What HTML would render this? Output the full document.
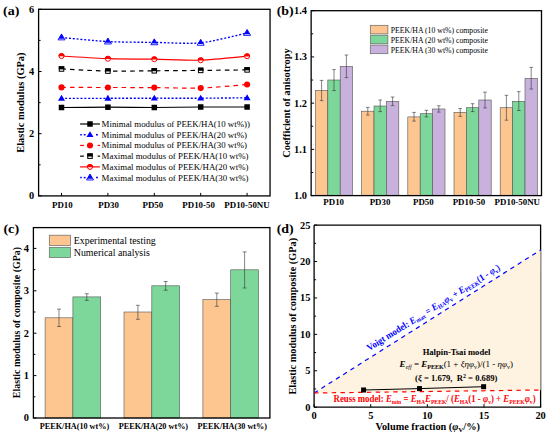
<!DOCTYPE html>
<html><head><meta charset="utf-8"><style>
html,body{margin:0;padding:0;background:#fff;width:550px;height:437px;overflow:hidden}
svg{display:block}
text{font-family:"Liberation Serif", serif;}
.tb{font-weight:bold;font-size:10.4px}
.cat{font-weight:bold;font-size:8.9px}
.catc{font-weight:bold;font-size:8.2px}
.pl{font-weight:bold;font-size:12.8px}
.yl{font-weight:bold;font-size:10.3px}
.xl{font-weight:bold;font-size:10.3px}
.lg{font-size:8.85px}
.lgb{font-size:7.75px}
.lgc{font-size:9.9px}
.rt{font-weight:bold;font-size:9.6px}
.sub{font-size:6.2px}
.ht{font-weight:bold;font-size:8.6px}
.hr{font-size:9.0px}
</style></head><body>
<svg width="550" height="437" viewBox="0 0 550 437">
<line x1="38.6" y1="195.90" x2="41.6" y2="195.90" stroke="#000" stroke-width="1"/>
<line x1="38.6" y1="164.80" x2="40.6" y2="164.80" stroke="#000" stroke-width="1"/>
<line x1="38.6" y1="133.70" x2="41.6" y2="133.70" stroke="#000" stroke-width="1"/>
<line x1="38.6" y1="102.60" x2="40.6" y2="102.60" stroke="#000" stroke-width="1"/>
<line x1="38.6" y1="71.50" x2="41.6" y2="71.50" stroke="#000" stroke-width="1"/>
<line x1="38.6" y1="40.40" x2="40.6" y2="40.40" stroke="#000" stroke-width="1"/>
<line x1="38.6" y1="9.30" x2="41.6" y2="9.30" stroke="#000" stroke-width="1"/>
<line x1="61.50" y1="195.9" x2="61.50" y2="192.9" stroke="#000" stroke-width="1"/>
<line x1="107.90" y1="195.9" x2="107.90" y2="192.9" stroke="#000" stroke-width="1"/>
<line x1="154.30" y1="195.9" x2="154.30" y2="192.9" stroke="#000" stroke-width="1"/>
<line x1="200.70" y1="195.9" x2="200.70" y2="192.9" stroke="#000" stroke-width="1"/>
<line x1="247.10" y1="195.9" x2="247.10" y2="192.9" stroke="#000" stroke-width="1"/>
<text x="34.1" y="199.30" class="tb" text-anchor="end">0</text>
<text x="34.1" y="137.10" class="tb" text-anchor="end">2</text>
<text x="34.1" y="74.90" class="tb" text-anchor="end">4</text>
<text x="34.1" y="12.70" class="tb" text-anchor="end">6</text>
<text x="62.40" y="207.6" class="cat" text-anchor="middle">PD10</text>
<text x="108.60" y="207.6" class="cat" text-anchor="middle">PD30</text>
<text x="152.90" y="207.6" class="cat" text-anchor="middle">PD50</text>
<text x="198.60" y="207.6" class="cat" text-anchor="middle">PD10-50</text>
<text x="247.00" y="207.6" class="cat" text-anchor="middle">PD10-50NU</text>
<text x="3.0" y="14.8" class="pl" textLength="16.3" lengthAdjust="spacingAndGlyphs">(a)</text>
<text transform="translate(24.4,102.6) rotate(-90)" class="yl" style="font-size:10.45px" text-anchor="middle">Elastic modulus (GPa)</text>
<path d="M61.50,37.50 C66.91,37.98 97.07,41.03 107.90,41.60 C118.73,42.17 143.47,42.25 154.30,42.40 C165.13,42.55 189.87,44.00 200.70,42.90 C211.53,41.80 241.69,34.16 247.10,33.00" fill="none" stroke="#0000FF" stroke-width="1.35" stroke-dasharray="2 1.8"/>
<polygon points="61.50,33.96 65.00,39.86 58.00,39.86" fill="#fff" stroke="#0000FF" stroke-width="0.9"/><polygon points="61.50,33.96 64.30,38.68 58.70,38.68" fill="#0000FF"/>
<polygon points="107.90,38.06 111.40,43.96 104.40,43.96" fill="#fff" stroke="#0000FF" stroke-width="0.9"/><polygon points="107.90,38.06 110.70,42.78 105.10,42.78" fill="#0000FF"/>
<polygon points="154.30,38.86 157.80,44.76 150.80,44.76" fill="#fff" stroke="#0000FF" stroke-width="0.9"/><polygon points="154.30,38.86 157.10,43.58 151.50,43.58" fill="#0000FF"/>
<polygon points="200.70,39.36 204.20,45.26 197.20,45.26" fill="#fff" stroke="#0000FF" stroke-width="0.9"/><polygon points="200.70,39.36 203.50,44.08 197.90,44.08" fill="#0000FF"/>
<polygon points="247.10,29.46 250.60,35.36 243.60,35.36" fill="#fff" stroke="#0000FF" stroke-width="0.9"/><polygon points="247.10,29.46 249.90,34.18 244.30,34.18" fill="#0000FF"/>
<path d="M61.50,56.00 C66.91,56.31 97.07,58.33 107.90,58.70 C118.73,59.07 143.47,59.03 154.30,59.20 C165.13,59.38 189.87,60.55 200.70,60.20 C211.53,59.85 241.69,56.67 247.10,56.20" fill="none" stroke="#FF0000" stroke-width="1.2"/>
<circle cx="61.50" cy="56.00" r="2.55" fill="#fff" stroke="#FF0000" stroke-width="1"/><path d="M58.45,56.30 A3.05,3.05 0 0 1 64.55,56.30 Z" fill="#FF0000"/>
<circle cx="107.90" cy="58.70" r="2.55" fill="#fff" stroke="#FF0000" stroke-width="1"/><path d="M104.85,59.00 A3.05,3.05 0 0 1 110.95,59.00 Z" fill="#FF0000"/>
<circle cx="154.30" cy="59.20" r="2.55" fill="#fff" stroke="#FF0000" stroke-width="1"/><path d="M151.25,59.50 A3.05,3.05 0 0 1 157.35,59.50 Z" fill="#FF0000"/>
<circle cx="200.70" cy="60.20" r="2.55" fill="#fff" stroke="#FF0000" stroke-width="1"/><path d="M197.65,60.50 A3.05,3.05 0 0 1 203.75,60.50 Z" fill="#FF0000"/>
<circle cx="247.10" cy="56.20" r="2.55" fill="#fff" stroke="#FF0000" stroke-width="1"/><path d="M244.05,56.50 A3.05,3.05 0 0 1 250.15,56.50 Z" fill="#FF0000"/>
<path d="M61.50,69.00 C66.91,69.25 97.07,70.89 107.90,71.10 C118.73,71.31 143.47,70.88 154.30,70.80 C165.13,70.72 189.87,70.51 200.70,70.40 C211.53,70.30 241.69,69.96 247.10,69.90" fill="none" stroke="#000000" stroke-width="1.2" stroke-dasharray="4.5 4.1"/>
<rect x="59.25" y="66.75" width="4.5" height="4.5" fill="#fff" stroke="#000000" stroke-width="1"/><rect x="58.75" y="66.25" width="5.5" height="3.15" fill="#000000"/>
<rect x="105.65" y="68.85" width="4.5" height="4.5" fill="#fff" stroke="#000000" stroke-width="1"/><rect x="105.15" y="68.35" width="5.5" height="3.15" fill="#000000"/>
<rect x="152.05" y="68.55" width="4.5" height="4.5" fill="#fff" stroke="#000000" stroke-width="1"/><rect x="151.55" y="68.05" width="5.5" height="3.15" fill="#000000"/>
<rect x="198.45" y="68.15" width="4.5" height="4.5" fill="#fff" stroke="#000000" stroke-width="1"/><rect x="197.95" y="67.65" width="5.5" height="3.15" fill="#000000"/>
<rect x="244.85" y="67.65" width="4.5" height="4.5" fill="#fff" stroke="#000000" stroke-width="1"/><rect x="244.35" y="67.15" width="5.5" height="3.15" fill="#000000"/>
<path d="M61.50,87.40 C66.91,87.41 97.07,87.48 107.90,87.50 C118.73,87.52 143.47,87.53 154.30,87.60 C165.13,87.67 189.87,88.46 200.70,88.10 C211.53,87.74 241.69,84.92 247.10,84.50" fill="none" stroke="#FF0000" stroke-width="1.2" stroke-dasharray="4.5 4.1"/>
<circle cx="61.50" cy="87.40" r="3.05" fill="#FF0000"/>
<circle cx="107.90" cy="87.50" r="3.05" fill="#FF0000"/>
<circle cx="154.30" cy="87.60" r="3.05" fill="#FF0000"/>
<circle cx="200.70" cy="88.10" r="3.05" fill="#FF0000"/>
<circle cx="247.10" cy="84.50" r="3.05" fill="#FF0000"/>
<path d="M61.50,98.30 C66.91,98.30 97.07,98.31 107.90,98.30 C118.73,98.29 143.47,98.21 154.30,98.20 C165.13,98.19 189.87,98.25 200.70,98.20 C211.53,98.15 241.69,97.85 247.10,97.80" fill="none" stroke="#0000FF" stroke-width="1.35" stroke-dasharray="2 1.8"/>
<polygon points="61.50,94.76 65.00,100.66 58.00,100.66" fill="#0000FF"/>
<polygon points="107.90,94.76 111.40,100.66 104.40,100.66" fill="#0000FF"/>
<polygon points="154.30,94.66 157.80,100.56 150.80,100.56" fill="#0000FF"/>
<polygon points="200.70,94.66 204.20,100.56 197.20,100.56" fill="#0000FF"/>
<polygon points="247.10,94.26 250.60,100.16 243.60,100.16" fill="#0000FF"/>
<path d="M61.50,107.50 C66.91,107.47 97.07,107.20 107.90,107.20 C118.73,107.20 143.47,107.52 154.30,107.50 C165.13,107.48 189.87,107.06 200.70,107.00 C211.53,106.94 241.69,107.00 247.10,107.00" fill="none" stroke="#000000" stroke-width="1.2"/>
<rect x="58.75" y="104.75" width="5.5" height="5.5" fill="#000000"/>
<rect x="105.15" y="104.45" width="5.5" height="5.5" fill="#000000"/>
<rect x="151.55" y="104.75" width="5.5" height="5.5" fill="#000000"/>
<rect x="197.95" y="104.25" width="5.5" height="5.5" fill="#000000"/>
<rect x="244.35" y="104.25" width="5.5" height="5.5" fill="#000000"/>
<line x1="80.1" y1="124.00" x2="99.9" y2="124.00" stroke="#000000" stroke-width="1.2"/>
<rect x="87.25" y="121.25" width="5.5" height="5.5" fill="#000000"/>
<text x="101.6" y="127.00" class="lg">Minimal modulus of PEEK/HA(10 wt%))</text>
<line x1="80.2" y1="134.72" x2="81.8" y2="134.72" stroke="#0000FF" stroke-width="1.5"/>
<line x1="83.7" y1="134.72" x2="85.6" y2="134.72" stroke="#0000FF" stroke-width="1.5"/>
<line x1="96.0" y1="134.72" x2="97.9" y2="134.72" stroke="#0000FF" stroke-width="1.5"/>
<polygon points="90.00,131.18 93.50,137.08 86.50,137.08" fill="#0000FF"/>
<text x="101.6" y="137.72" class="lg">Minimal modulus of PEEK/HA(20 wt%)</text>
<line x1="80.1" y1="145.44" x2="83.9" y2="145.44" stroke="#FF0000" stroke-width="1.2"/>
<line x1="97.6" y1="145.44" x2="100.1" y2="145.44" stroke="#FF0000" stroke-width="1.2"/>
<circle cx="90.00" cy="145.44" r="3.05" fill="#FF0000"/>
<text x="101.6" y="148.44" class="lg">Minimal modulus of PEEK/HA(30 wt%)</text>
<line x1="80.1" y1="156.16" x2="83.9" y2="156.16" stroke="#000000" stroke-width="1.2"/>
<line x1="97.6" y1="156.16" x2="100.1" y2="156.16" stroke="#000000" stroke-width="1.2"/>
<rect x="87.75" y="153.91" width="4.5" height="4.5" fill="#fff" stroke="#000000" stroke-width="1"/><rect x="87.25" y="153.41" width="5.5" height="3.15" fill="#000000"/>
<text x="101.6" y="159.16" class="lg">Maximal modulus of PEEK/HA(10 wt%)</text>
<line x1="80.1" y1="166.88" x2="99.9" y2="166.88" stroke="#FF0000" stroke-width="1.2"/>
<circle cx="90.00" cy="166.88" r="2.55" fill="#fff" stroke="#FF0000" stroke-width="1"/><path d="M86.95,167.18 A3.05,3.05 0 0 1 93.05,167.18 Z" fill="#FF0000"/>
<text x="101.6" y="169.88" class="lg">Maximal modulus of PEEK/HA(20 wt%)</text>
<line x1="80.2" y1="177.60" x2="81.8" y2="177.60" stroke="#0000FF" stroke-width="1.5"/>
<line x1="83.7" y1="177.60" x2="85.6" y2="177.60" stroke="#0000FF" stroke-width="1.5"/>
<line x1="96.0" y1="177.60" x2="97.9" y2="177.60" stroke="#0000FF" stroke-width="1.5"/>
<polygon points="90.00,174.06 93.50,179.96 86.50,179.96" fill="#fff" stroke="#0000FF" stroke-width="0.9"/><polygon points="90.00,174.06 92.80,178.78 87.20,178.78" fill="#0000FF"/>
<text x="101.6" y="180.60" class="lg">Maximal modulus of PEEK/HA(30 wt%)</text>
<rect x="38.6" y="9.3" width="231.45" height="186.60" fill="none" stroke="#000" stroke-width="1.3"/>
<rect x="315.40" y="90.40" width="12.4" height="105.20" fill="#FDC691" stroke="#555" stroke-width="0.6"/>
<path d="M321.60,80.4 V100.6 M319.80,80.4 H323.40 M319.80,100.6 H323.40" stroke="#333" stroke-width="0.6" fill="none"/>
<rect x="327.80" y="80.00" width="12.4" height="115.60" fill="#7DD79A" stroke="#555" stroke-width="0.6"/>
<path d="M334.00,69.6 V90.6 M332.20,69.6 H335.80 M332.20,90.6 H335.80" stroke="#333" stroke-width="0.6" fill="none"/>
<rect x="340.20" y="66.40" width="12.4" height="129.20" fill="#C8B1DD" stroke="#555" stroke-width="0.6"/>
<path d="M346.40,55 V77.6 M344.60,55 H348.20 M344.60,77.6 H348.20" stroke="#333" stroke-width="0.6" fill="none"/>
<rect x="361.60" y="111.20" width="12.4" height="84.40" fill="#FDC691" stroke="#555" stroke-width="0.6"/>
<path d="M367.80,107.4 V115 M366.00,107.4 H369.60 M366.00,115 H369.60" stroke="#333" stroke-width="0.6" fill="none"/>
<rect x="374.00" y="106.00" width="12.4" height="89.60" fill="#7DD79A" stroke="#555" stroke-width="0.6"/>
<path d="M380.20,100 V111.6 M378.40,100 H382.00 M378.40,111.6 H382.00" stroke="#333" stroke-width="0.6" fill="none"/>
<rect x="386.40" y="101.40" width="12.4" height="94.20" fill="#C8B1DD" stroke="#555" stroke-width="0.6"/>
<path d="M392.60,97 V105.6 M390.80,97 H394.40 M390.80,105.6 H394.40" stroke="#333" stroke-width="0.6" fill="none"/>
<rect x="407.80" y="116.90" width="12.4" height="78.70" fill="#FDC691" stroke="#555" stroke-width="0.6"/>
<path d="M414.00,112.4 V121.1 M412.20,112.4 H415.80 M412.20,121.1 H415.80" stroke="#333" stroke-width="0.6" fill="none"/>
<rect x="420.20" y="113.70" width="12.4" height="81.90" fill="#7DD79A" stroke="#555" stroke-width="0.6"/>
<path d="M426.40,110.3 V116.9 M424.60,110.3 H428.20 M424.60,116.9 H428.20" stroke="#333" stroke-width="0.6" fill="none"/>
<rect x="432.60" y="109.00" width="12.4" height="86.60" fill="#C8B1DD" stroke="#555" stroke-width="0.6"/>
<path d="M438.80,105.8 V112.1 M437.00,105.8 H440.60 M437.00,112.1 H440.60" stroke="#333" stroke-width="0.6" fill="none"/>
<rect x="454.00" y="112.40" width="12.4" height="83.20" fill="#FDC691" stroke="#555" stroke-width="0.6"/>
<path d="M460.20,108.5 V116.4 M458.40,108.5 H462.00 M458.40,116.4 H462.00" stroke="#333" stroke-width="0.6" fill="none"/>
<rect x="466.40" y="107.70" width="12.4" height="87.90" fill="#7DD79A" stroke="#555" stroke-width="0.6"/>
<path d="M472.60,103.7 V111.6 M470.80,103.7 H474.40 M470.80,111.6 H474.40" stroke="#333" stroke-width="0.6" fill="none"/>
<rect x="478.80" y="100.00" width="12.4" height="95.60" fill="#C8B1DD" stroke="#555" stroke-width="0.6"/>
<path d="M485.00,92.1 V107.9 M483.20,92.1 H486.80 M483.20,107.9 H486.80" stroke="#333" stroke-width="0.6" fill="none"/>
<rect x="500.20" y="107.70" width="12.4" height="87.90" fill="#FDC691" stroke="#555" stroke-width="0.6"/>
<path d="M506.40,95.3 V120.2 M504.60,95.3 H508.20 M504.60,120.2 H508.20" stroke="#333" stroke-width="0.6" fill="none"/>
<rect x="512.60" y="101.30" width="12.4" height="94.30" fill="#7DD79A" stroke="#555" stroke-width="0.6"/>
<path d="M518.80,91.6 V110.5 M517.00,91.6 H520.60 M517.00,110.5 H520.60" stroke="#333" stroke-width="0.6" fill="none"/>
<rect x="525.00" y="78.40" width="12.4" height="117.20" fill="#C8B1DD" stroke="#555" stroke-width="0.6"/>
<path d="M531.20,67.4 V89 M529.40,67.4 H533.00 M529.40,89 H533.00" stroke="#333" stroke-width="0.6" fill="none"/>
<line x1="311.15" y1="195.60" x2="314.15" y2="195.60" stroke="#000" stroke-width="1"/>
<line x1="311.15" y1="172.49" x2="313.15" y2="172.49" stroke="#000" stroke-width="1"/>
<line x1="311.15" y1="149.37" x2="314.15" y2="149.37" stroke="#000" stroke-width="1"/>
<line x1="311.15" y1="126.26" x2="313.15" y2="126.26" stroke="#000" stroke-width="1"/>
<line x1="311.15" y1="103.15" x2="314.15" y2="103.15" stroke="#000" stroke-width="1"/>
<line x1="311.15" y1="80.04" x2="313.15" y2="80.04" stroke="#000" stroke-width="1"/>
<line x1="311.15" y1="56.92" x2="314.15" y2="56.92" stroke="#000" stroke-width="1"/>
<line x1="311.15" y1="33.81" x2="313.15" y2="33.81" stroke="#000" stroke-width="1"/>
<line x1="311.15" y1="10.70" x2="314.15" y2="10.70" stroke="#000" stroke-width="1"/>
<text x="306.95" y="199.00" class="tb" text-anchor="end">1.0</text>
<text x="306.95" y="152.77" class="tb" text-anchor="end">1.1</text>
<text x="306.95" y="106.55" class="tb" text-anchor="end">1.2</text>
<text x="306.95" y="60.32" class="tb" text-anchor="end">1.3</text>
<text x="306.95" y="14.10" class="tb" text-anchor="end">1.4</text>
<text x="333.70" y="205.4" class="cat" text-anchor="middle">PD10</text>
<text x="380.00" y="205.4" class="cat" text-anchor="middle">PD30</text>
<text x="423.40" y="205.4" class="cat" text-anchor="middle">PD50</text>
<text x="468.90" y="205.4" class="cat" text-anchor="middle">PD10-50</text>
<text x="517.30" y="205.4" class="cat" text-anchor="middle">PD10-50NU</text>
<text x="276.7" y="14.8" class="pl" textLength="17.0" lengthAdjust="spacingAndGlyphs">(b)</text>
<text transform="translate(290.4,103.05) rotate(-90)" class="yl" style="font-size:10.4px" text-anchor="middle">Coefficient of anisotropy</text>
<rect x="370.3" y="25.30" width="17.6" height="8.6" fill="#FDC691" stroke="#666" stroke-width="0.7"/>
<text x="390.8" y="32.70" class="lgb">PEEK/HA (10 wt%) composite</text>
<rect x="370.3" y="35.20" width="17.6" height="8.6" fill="#7DD79A" stroke="#666" stroke-width="0.7"/>
<text x="390.8" y="42.60" class="lgb">PEEK/HA (20 wt%) composite</text>
<rect x="370.3" y="45.10" width="17.6" height="8.6" fill="#C8B1DD" stroke="#666" stroke-width="0.7"/>
<text x="390.8" y="52.50" class="lgb">PEEK/HA (30 wt%) composite</text>
<rect x="311.15" y="10.7" width="230.35" height="184.90" fill="none" stroke="#000" stroke-width="1.3"/>
<rect x="45.10" y="317.80" width="27.8" height="100.20" fill="#FDC691" stroke="#555" stroke-width="0.6"/>
<path d="M59.00,309.1 V326.5 M57.00,309.1 H61.00 M57.00,326.5 H61.00" stroke="#333" stroke-width="0.6" fill="none"/>
<rect x="72.90" y="296.90" width="27.8" height="121.10" fill="#7DD79A" stroke="#555" stroke-width="0.6"/>
<path d="M86.80,293.7 V300.4 M84.80,293.7 H88.80 M84.80,300.4 H88.80" stroke="#333" stroke-width="0.6" fill="none"/>
<rect x="124.00" y="312.00" width="27.8" height="106.00" fill="#FDC691" stroke="#555" stroke-width="0.6"/>
<path d="M137.90,305.3 V319.3 M135.90,305.3 H139.90 M135.90,319.3 H139.90" stroke="#333" stroke-width="0.6" fill="none"/>
<rect x="151.80" y="285.80" width="27.8" height="132.20" fill="#7DD79A" stroke="#555" stroke-width="0.6"/>
<path d="M165.70,281.5 V290.2 M163.70,281.5 H167.70 M163.70,290.2 H167.70" stroke="#333" stroke-width="0.6" fill="none"/>
<rect x="202.90" y="299.50" width="27.8" height="118.50" fill="#FDC691" stroke="#555" stroke-width="0.6"/>
<path d="M216.80,293.1 V306.3 M214.80,293.1 H218.80 M214.80,306.3 H218.80" stroke="#333" stroke-width="0.6" fill="none"/>
<rect x="230.70" y="269.80" width="27.8" height="148.20" fill="#7DD79A" stroke="#555" stroke-width="0.6"/>
<path d="M244.60,251.9 V288 M242.60,251.9 H246.60 M242.60,288 H246.60" stroke="#333" stroke-width="0.6" fill="none"/>
<line x1="33.4" y1="418.00" x2="36.4" y2="418.00" stroke="#000" stroke-width="1"/>
<line x1="33.4" y1="396.80" x2="35.4" y2="396.80" stroke="#000" stroke-width="1"/>
<line x1="33.4" y1="375.60" x2="36.4" y2="375.60" stroke="#000" stroke-width="1"/>
<line x1="33.4" y1="354.40" x2="35.4" y2="354.40" stroke="#000" stroke-width="1"/>
<line x1="33.4" y1="333.20" x2="36.4" y2="333.20" stroke="#000" stroke-width="1"/>
<line x1="33.4" y1="312.00" x2="35.4" y2="312.00" stroke="#000" stroke-width="1"/>
<line x1="33.4" y1="290.80" x2="36.4" y2="290.80" stroke="#000" stroke-width="1"/>
<line x1="33.4" y1="269.60" x2="35.4" y2="269.60" stroke="#000" stroke-width="1"/>
<line x1="33.4" y1="248.40" x2="36.4" y2="248.40" stroke="#000" stroke-width="1"/>
<text x="28.9" y="421.40" class="tb" text-anchor="end">0</text>
<text x="28.9" y="379.00" class="tb" text-anchor="end">1</text>
<text x="28.9" y="336.60" class="tb" text-anchor="end">2</text>
<text x="28.9" y="294.20" class="tb" text-anchor="end">3</text>
<text x="28.9" y="251.80" class="tb" text-anchor="end">4</text>
<text x="74.50" y="429.0" class="catc" text-anchor="middle">PEEK/HA(10 wt%)</text>
<text x="153.40" y="429.0" class="catc" text-anchor="middle">PEEK/HA(20 wt%)</text>
<text x="232.30" y="429.0" class="catc" text-anchor="middle">PEEK/HA(30 wt%)</text>
<text x="3.4" y="233.1" class="pl" textLength="15.7" lengthAdjust="spacingAndGlyphs">(c)</text>
<text transform="translate(20.4,322.6) rotate(-90)" class="yl" style="font-size:9.95px" text-anchor="middle">Elastic modulus of composite (GPa)</text>
<rect x="49.3" y="235.20" width="21.2" height="10.2" fill="#FDC691" stroke="#666" stroke-width="0.7"/>
<text x="73.8" y="243.50" class="lgc">Experimental testing</text>
<rect x="49.3" y="247.30" width="21.2" height="10.2" fill="#7DD79A" stroke="#666" stroke-width="0.7"/>
<text x="73.8" y="255.60" class="lgc">Numerical analysis</text>
<rect x="33.4" y="227.6" width="236.50" height="190.40" fill="none" stroke="#000" stroke-width="1.3"/>
<path d="M314.1,225.1 H540.6 V407.2 H314.1" fill="none" stroke="#000" stroke-width="1.3"/>
<polygon points="314.1,393 540.6,250 540.6,390" fill="#FEF2E0"/>
<line x1="314.1" y1="225.1" x2="314.1" y2="407.2" stroke="#000" stroke-width="1.3"/>
<line x1="314.1" y1="393" x2="540.6" y2="250" stroke="#0000FF" stroke-width="1.2" stroke-dasharray="4.4 4.2"/>
<line x1="314.1" y1="393" x2="540.6" y2="390" stroke="#FF0000" stroke-width="1.2" stroke-dasharray="4.4 4.4"/>
<polyline points="363.6,390.0 419.5,388.6 483.6,386.7" fill="none" stroke="#000" stroke-width="1"/>
<rect x="361.1" y="387.5" width="5" height="5" fill="#000"/>
<rect x="417.0" y="386.1" width="5" height="5" fill="#000"/>
<rect x="481.1" y="384.2" width="5" height="5" fill="#000"/>
<line x1="314.1" y1="407.20" x2="317.1" y2="407.20" stroke="#000" stroke-width="1"/>
<line x1="314.1" y1="388.99" x2="316.1" y2="388.99" stroke="#000" stroke-width="1"/>
<text x="310.40000000000003" y="410.60" class="tb" text-anchor="end">0</text>
<line x1="314.1" y1="370.78" x2="317.1" y2="370.78" stroke="#000" stroke-width="1"/>
<line x1="314.1" y1="352.57" x2="316.1" y2="352.57" stroke="#000" stroke-width="1"/>
<text x="310.40000000000003" y="374.18" class="tb" text-anchor="end">5</text>
<line x1="314.1" y1="334.36" x2="317.1" y2="334.36" stroke="#000" stroke-width="1"/>
<line x1="314.1" y1="316.15" x2="316.1" y2="316.15" stroke="#000" stroke-width="1"/>
<text x="310.40000000000003" y="337.76" class="tb" text-anchor="end">10</text>
<line x1="314.1" y1="297.94" x2="317.1" y2="297.94" stroke="#000" stroke-width="1"/>
<line x1="314.1" y1="279.73" x2="316.1" y2="279.73" stroke="#000" stroke-width="1"/>
<text x="310.40000000000003" y="301.34" class="tb" text-anchor="end">15</text>
<line x1="314.1" y1="261.52" x2="317.1" y2="261.52" stroke="#000" stroke-width="1"/>
<line x1="314.1" y1="243.31" x2="316.1" y2="243.31" stroke="#000" stroke-width="1"/>
<text x="310.40000000000003" y="264.92" class="tb" text-anchor="end">20</text>
<line x1="314.1" y1="225.10" x2="317.1" y2="225.10" stroke="#000" stroke-width="1"/>
<text x="310.40000000000003" y="228.50" class="tb" text-anchor="end">25</text>
<line x1="314.10" y1="407.2" x2="314.10" y2="404.2" stroke="#000" stroke-width="1"/>
<text x="314.10" y="418.8" class="tb" text-anchor="middle">0</text>
<line x1="370.73" y1="407.2" x2="370.73" y2="404.2" stroke="#000" stroke-width="1"/>
<text x="370.73" y="418.8" class="tb" text-anchor="middle">5</text>
<line x1="427.35" y1="407.2" x2="427.35" y2="404.2" stroke="#000" stroke-width="1"/>
<text x="427.35" y="418.8" class="tb" text-anchor="middle">10</text>
<line x1="483.98" y1="407.2" x2="483.98" y2="404.2" stroke="#000" stroke-width="1"/>
<text x="483.98" y="418.8" class="tb" text-anchor="middle">15</text>
<line x1="540.60" y1="407.2" x2="540.60" y2="404.2" stroke="#000" stroke-width="1"/>
<text x="540.60" y="418.8" class="tb" text-anchor="middle">20</text>
<text x="276.7" y="233.1" class="pl" textLength="17.0" lengthAdjust="spacingAndGlyphs">(d)</text>
<text transform="translate(295.9,316.2) rotate(-90)" class="yl" style="font-size:10.3px" text-anchor="middle">Elastic modulus of composite (GPa)</text>
<text x="427.7" y="430.4" class="xl" text-anchor="middle">Volume fraction (<tspan font-style="italic">φ</tspan><tspan font-size="7" dy="1.5">V</tspan><tspan dy="-1.5">/%)</tspan></text>
<text x="333.6" y="402.4" class="rt" fill="#FF0000" textLength="202" lengthAdjust="spacingAndGlyphs">Reuss model: <tspan font-style="italic">E</tspan><tspan class="sub" dy="1.5">min</tspan><tspan dy="-1.5"> = </tspan><tspan font-style="italic">E</tspan><tspan class="sub" dy="1.5">HA</tspan><tspan dy="-1.5" font-style="italic">E</tspan><tspan class="sub" dy="1.5">PEEK</tspan><tspan dy="-1.5">/ (</tspan><tspan font-style="italic">E</tspan><tspan class="sub" dy="1.5">HA</tspan><tspan dy="-1.5">(1 - </tspan><tspan font-style="italic">φ</tspan><tspan class="sub" dy="1.5">v</tspan><tspan dy="-1.5">) + </tspan><tspan font-style="italic">E</tspan><tspan class="sub" dy="1.5">PEEK</tspan><tspan dy="-1.5" font-style="italic">φ</tspan><tspan class="sub" dy="1.5">v</tspan><tspan dy="-1.5">)</tspan></text>
<text transform="translate(369.2,351.2) rotate(-31.9)" class="rt" fill="#0000FF" textLength="155" lengthAdjust="spacingAndGlyphs">Voigt model: <tspan font-style="italic">E</tspan><tspan class="sub" dy="1.5">max</tspan><tspan dy="-1.5"> = </tspan><tspan font-style="italic">E</tspan><tspan class="sub" dy="1.5">HA</tspan><tspan dy="-1.5" font-style="italic">φ</tspan><tspan class="sub" dy="1.5">v</tspan><tspan dy="-1.5"> + </tspan><tspan font-style="italic">E</tspan><tspan class="sub" dy="1.5">PEEK</tspan><tspan dy="-1.5">(1 - </tspan><tspan font-style="italic">φ</tspan><tspan class="sub" dy="1.5">v</tspan><tspan dy="-1.5">)</tspan></text>
<text x="456.5" y="355.4" class="ht" text-anchor="middle">Halpin-Tsai model</text>
<text x="456.3" y="367" class="hr" text-anchor="middle"><tspan font-weight="bold" font-style="italic">E</tspan><tspan font-size="6" font-style="italic" dy="1.5">eff</tspan><tspan dy="-1.5" font-weight="bold"> = </tspan><tspan font-weight="bold" font-style="italic">E</tspan><tspan font-size="6" font-weight="bold" dy="1.5">PEEK</tspan><tspan dy="-1.5">(1 + </tspan><tspan font-style="italic">ξη</tspan><tspan font-style="italic">φ</tspan><tspan font-size="6" dy="1.5">v</tspan><tspan dy="-1.5">)/(1 - </tspan><tspan font-style="italic">η</tspan><tspan font-style="italic">φ</tspan><tspan font-size="6" dy="1.5">v</tspan><tspan dy="-1.5">)</tspan></text>
<text x="456.2" y="381.4" class="ht" text-anchor="middle">(<tspan font-style="italic">ξ</tspan> = 1.679,&#160;&#160;R<tspan font-size="6" dy="-3.5">2</tspan><tspan dy="3.5"> = 0.689)</tspan></text>
</svg>
</body></html>
